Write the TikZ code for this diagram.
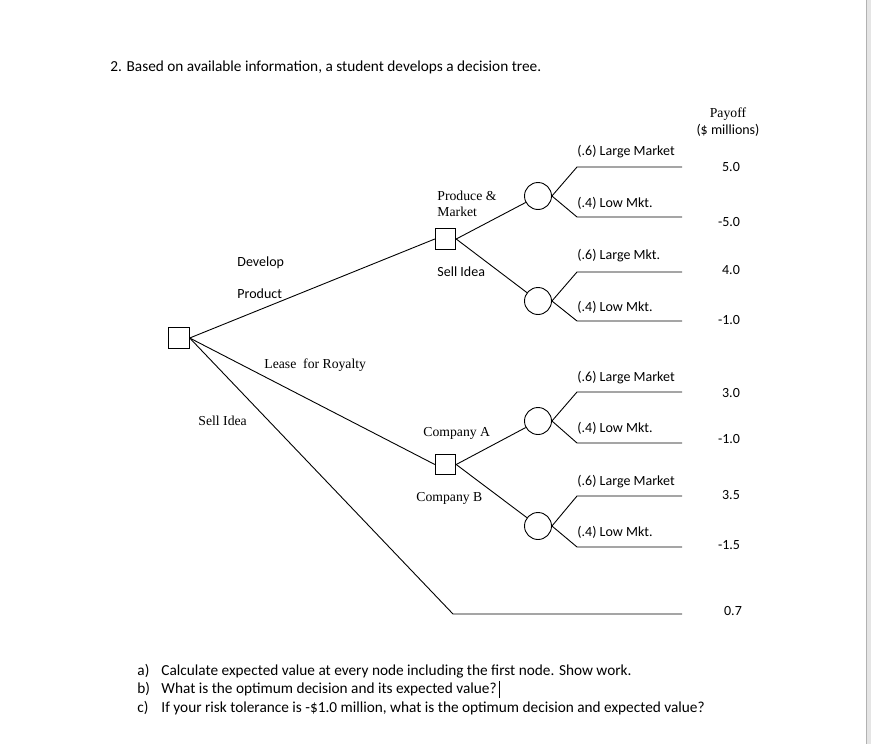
\documentclass[tikz,border=0pt]{standalone}
\usepackage{fontspec}
\setmainfont{Liberation Serif}
\newfontfamily\calfont{Carlito}
\begin{document}
\begin{tikzpicture}[x=1pt,y=-1pt,line width=0.9pt,
  dec/.style={draw,rectangle,minimum size=20.5pt,inner sep=0pt,fill=white},
  chance/.style={draw,circle,minimum size=27pt,inner sep=0pt,fill=white},
  pt/.style={coordinate},
  cl/.style={font=\calfont\fontsize{14}{16}\selectfont,inner sep=0pt,anchor=west},
  ql/.style={font=\calfont\fontsize{15.3}{17}\selectfont,inner sep=0pt,anchor=west},
  sl/.style={font=\fontsize{13.7}{15}\selectfont,inner sep=0pt,anchor=west},
  val/.style={font=\calfont\fontsize{14}{16}\selectfont,inner sep=0pt,anchor=center}]
\useasboundingbox (0,0) rectangle (871,744);
\fill[white] (0,0) rectangle (871,744);
\fill[black!10] (866,0) rectangle (871,744);
\draw[black!30,line width=1pt] (866.5,0) -- (866.5,744);

\node[ql] (title) at (110,67) {2. Based on available information, a student develops a decision tree.};

% nodes
\node[dec] (root) at (179,338) {};
\node[dec] (d1) at (445.5,239) {};
\node[dec] (d2) at (445.5,464.5) {};
\node[chance] (c1) at (538,196) {};
\node[chance] (c2) at (538,301) {};
\node[chance] (c3) at (538,421) {};
\node[chance] (c4) at (538,526) {};

% end points
\node[pt] (e1) at (577,167) {};   \node[pt] (f1) at (682,167) {};
\node[pt] (e2) at (577,217) {};   \node[pt] (f2) at (682,217) {};
\node[pt] (e3) at (577,272) {};   \node[pt] (f3) at (682,272) {};
\node[pt] (e4) at (577,321) {};   \node[pt] (f4) at (682,321) {};
\node[pt] (e5) at (577,392) {};   \node[pt] (f5) at (682,392) {};
\node[pt] (e6) at (577,443) {};   \node[pt] (f6) at (682,443) {};
\node[pt] (e7) at (577,496) {};   \node[pt] (f7) at (682,496) {};
\node[pt] (e8) at (577,547) {};   \node[pt] (f8) at (682,547) {};
\node[pt] (e9) at (453,614) {};   \node[pt] (f9) at (682,614) {};

% connectors
\draw (root.east) -- (d1.west);
\draw (root.east) -- (d2.west);
\draw (root.east) -- (e9) -- (f9);
\draw (d1.east) -- (c1);
\draw (d1.east) -- (c2);
\draw (d2.east) -- (c3);
\draw (d2.east) -- (c4);
\draw (c1.east) -- (e1) -- (f1);
\draw (c1.east) -- (e2) -- (f2);
\draw (c2.east) -- (e3) -- (f3);
\draw (c2.east) -- (e4) -- (f4);
\draw (c3.east) -- (e5) -- (f5);
\draw (c3.east) -- (e6) -- (f6);
\draw (c4.east) -- (e7) -- (f7);
\draw (c4.east) -- (e8) -- (f8);

% branch labels
\node[cl] (l1) at (577,152) {(.6) Large Market};
\node[cl] (l2) at (577,203) {(.4) Low Mkt.};
\node[cl] (l3) at (577,256) {(.6) Large Mkt.};
\node[cl] (l4) at (577,307) {(.4) Low Mkt.};
\node[cl] (l5) at (577,378) {(.6) Large Market};
\node[cl] (l6) at (577,428) {(.4) Low Mkt.};
\node[cl] (l7) at (577,482) {(.6) Large Market};
\node[cl] (l8) at (577,532) {(.4) Low Mkt.};

\node[cl] (dev) at (237,263) {Develop};
\node[cl] (prod) at (237,294) {Product};
\node[sl] (pm1) at (437,196) {Produce \&};
\node[sl] (pm2) at (437,212) {Market};
\node[cl] (si1) at (437,272) {Sell Idea};
\node[sl] (lease) at (264,365) {Lease~ for Royalty};
\node[sl] (si2) at (198,421) {Sell Idea};
\node[sl] (ca) at (423,433) {Company A};
\node[sl] (cb) at (416,498) {Company B};

% payoffs
\node[font=\fontsize{13.7}{15}\selectfont,inner sep=0pt] (payoff) at (728,114) {Payoff};
\node[val] (mill) at (728,130) {(\$ millions)};
\node[val] (p1) at (731,167) {5.0};
\node[val] (p2) at (729,222) {-5.0};
\node[val] (p3) at (731,270) {4.0};
\node[val] (p4) at (729,320) {-1.0};
\node[val] (p5) at (731,393) {3.0};
\node[val] (p6) at (729,439) {-1.0};
\node[val] (p7) at (731,495) {3.5};
\node[val] (p8) at (729,545) {-1.5};
\node[val] (p9) at (733,611) {0.7};

% questions
\node[ql] (qa) at (137,671) {a)};
\node[ql] (qat) at (161,671) {Calculate expected value at every node including the first node. Show work.};
\node[ql] (qb) at (137,689) {b)};
\node[ql] (qbt) at (161,689) {What is the optimum decision and its expected value?};
\node[ql] (qc) at (137,708) {c)};
\node[ql] (qct) at (161,708) {If your risk tolerance is -\$1.0 million, what is the optimum decision and expected value?};
\draw[line width=0.6pt] ([xshift=2pt]qbt.east) ++(0,-8.5) -- ++(0,17);
\end{tikzpicture}
\end{document}
